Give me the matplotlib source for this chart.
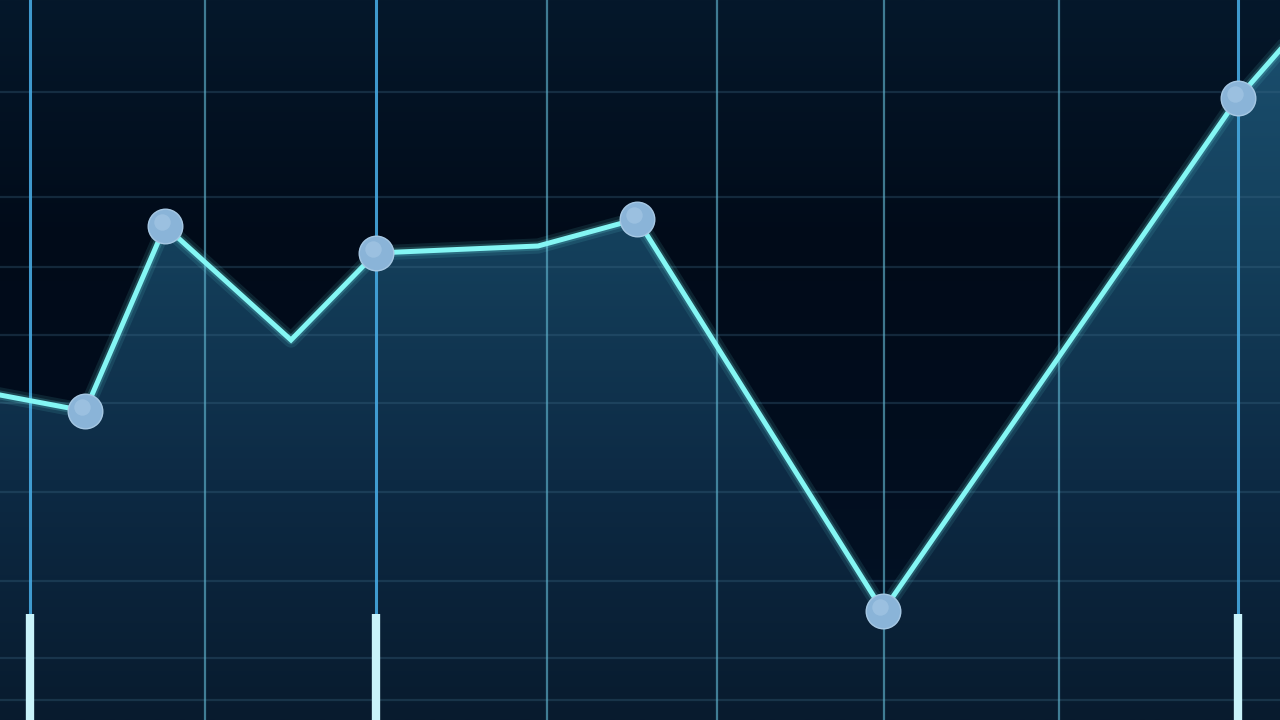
import matplotlib.pyplot as plt
import numpy as np
from matplotlib.colors import LinearSegmentedColormap

# line values (x, height from bottom)
x_vals = [0, 85, 165, 291, 376, 538, 637, 883, 1238, 1280]
y_vals = [325, 309, 494, 380, 467, 474, 501, 109, 622, 670]
marker_idx = [1, 2, 4, 6, 7, 8]

# grid
v_grid = [30, 205, 376, 547, 717, 884, 1059, 1238]
v_bright = [30, 376, 1238]
h_grid = [628, 523, 453, 385, 317, 228, 139, 62, 20]
bar_top = 106

fig = plt.figure(figsize=(12.8, 7.2), dpi=100)
ax = fig.add_axes([0, 0, 1, 1])
ax.set_xlim(0, 1280)
ax.set_ylim(0, 720)
ax.axis("off")

# background gradient (top -> bottom)
bg = LinearSegmentedColormap.from_list("bg", ["#03162b", "#020e1f", "#010b19", "#05182b"])
grad = np.linspace(0, 1, 256).reshape(-1, 1)
ax.imshow(grad, cmap=bg, extent=[0, 1280, 720, 0], aspect="auto", zorder=0)

# fill under line with gradient, darker at the bottom
fill = ax.fill_between(x_vals, y_vals, 0, color="none", zorder=1)
fc = LinearSegmentedColormap.from_list("fc", ["#081b2e", "#0d2a44", "#14405c", "#1b5070"])
im = ax.imshow(grad, cmap=fc, extent=[0, 1280, 0, 720], aspect="auto", zorder=1, origin="lower")
im.set_clip_path(fill.get_paths()[0], transform=ax.transData)

# horizontal grid
for y in h_grid:
    ax.axhline(y, color="#3f6c88", lw=1.6, alpha=0.3, zorder=2)

# vertical grid
for x in v_grid:
    if x in v_bright:
        ax.axvline(x, color="#46a8e0", lw=2.2, alpha=0.9, zorder=2)
    else:
        ax.axvline(x, color="#5fb2cc", lw=1.6, alpha=0.65, zorder=2)

# white bars at the bottom
for x in v_bright:
    ax.plot([x, x], [0, bar_top], color="#c9f3fa", lw=6, solid_capstyle="butt", zorder=3)

# glow + line
ax.plot(x_vals, y_vals, color="#6ff0f0", lw=11, alpha=0.1, zorder=4, solid_joinstyle="round")
ax.plot(x_vals, y_vals, color="#6ff0f0", lw=6.5, alpha=0.18, zorder=4, solid_joinstyle="round")
ax.plot(x_vals, y_vals, color="#84f6f4", lw=3.6, zorder=5, solid_joinstyle="miter")

# markers
mx = [x_vals[i] for i in marker_idx]
my = [y_vals[i] for i in marker_idx]
ax.scatter(mx, my, s=620, color="#8ab4d8", edgecolor="#a6c8e4", linewidth=1, zorder=6)
ax.scatter([x - 3 for x in mx], [y + 4 for y in my], s=140, color="#b0d0ea", alpha=0.45, linewidth=0, zorder=7)

fig.savefig("out.png", dpi=100)
